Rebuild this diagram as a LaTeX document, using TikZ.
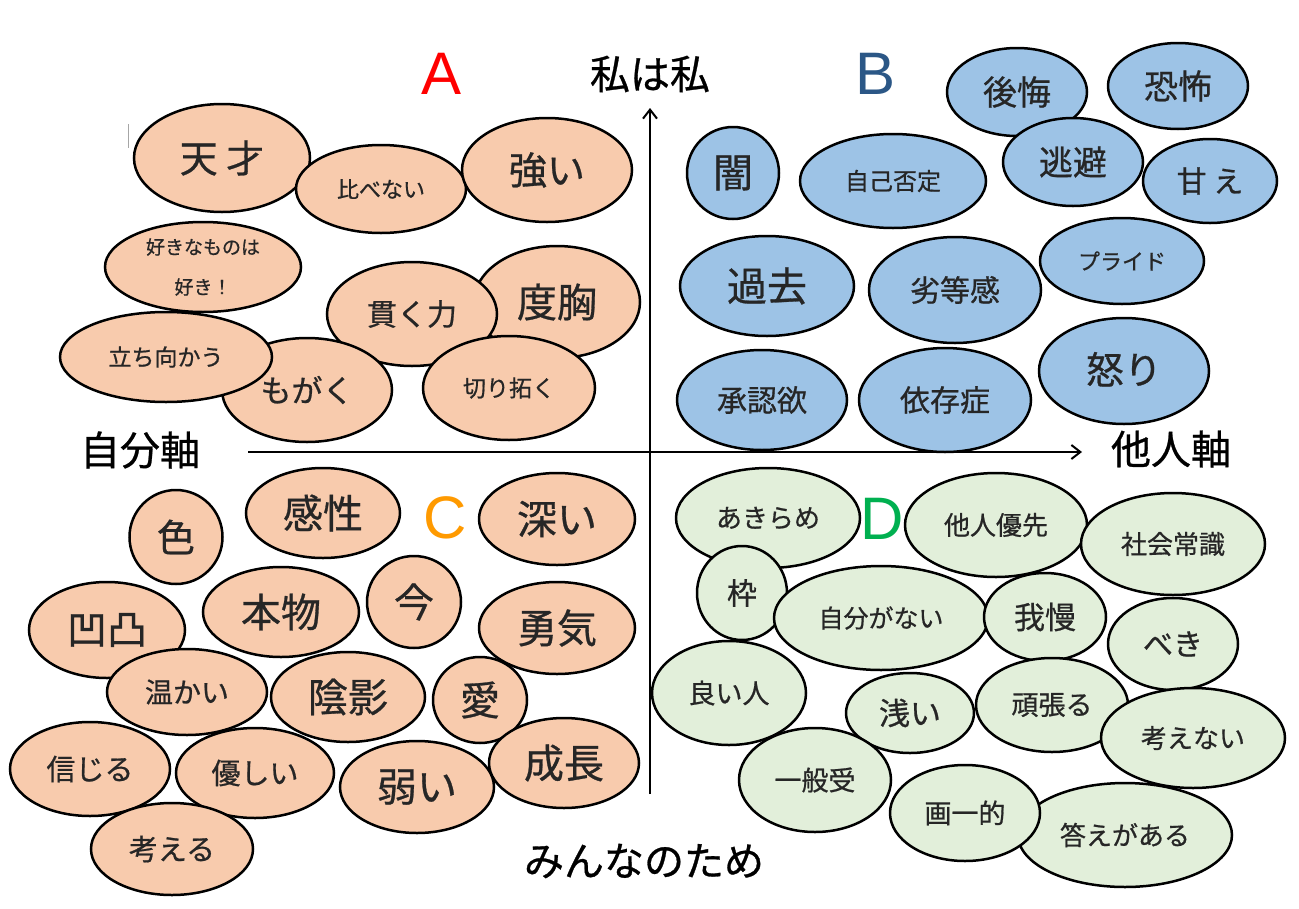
\documentclass[tikz,border=0pt]{standalone}
\usepackage{fontspec}
\setmainfont{Noto Sans CJK JP}[FakeBold=0.7]
\newfontfamily\latinfont{Liberation Sans}
\usetikzlibrary{shapes.geometric,arrows.meta}
\definecolor{peach}{HTML}{F8CBAD}
\definecolor{bluef}{HTML}{9DC3E6}
\definecolor{greenf}{HTML}{E2EFDA}
\definecolor{txt}{HTML}{262626}
\definecolor{qa}{HTML}{FF0000}
\definecolor{qb}{HTML}{2B5786}
\definecolor{qc}{HTML}{FF9A00}
\definecolor{qd}{HTML}{00B050}
\begin{document}
\begin{tikzpicture}[x=1pt,y=-1pt,
  bub/.style={ellipse,draw=black,line width=2.5pt,inner sep=0pt,text=txt},
  pe/.style={bub,fill=peach},
  bl/.style={bub,fill=bluef},
  gr/.style={bub,fill=greenf},
  ax/.style 2 args={minimum width=#1pt,minimum height=#2pt},
  tsz/.style={font=\fontsize{#1}{#1}\selectfont},
  axlab/.style={font=\fontsize{40}{40}\selectfont,text=black,inner sep=0pt},
  quad/.style={font=\latinfont\fontsize{60}{60}\selectfont,inner sep=0pt},
  axisline/.style={line width=2pt,-{Straight Barb[length=9pt,width=14pt,line width=2pt]}}]
\useasboundingbox (0,0) rectangle (1299,908);
\fill[white] (0,0) rectangle (1299,908);

% axes
\coordinate (vtop) at (650,108);
\coordinate (vbot) at (650,794);
\coordinate (hl) at (248,452);
\coordinate (hr) at (1082,452);
\draw[axisline] (vbot) -- (vtop);
\draw[axisline] (hl) -- (hr);

\node[axlab] (top) at (650,74) {私は私};
\node[axlab] (left) at (140,450) {自分軸};
\node[axlab] (right) at (1171,449) {他人軸};
\node[axlab] (bottom) at (644,861) {みんなのため};

\node[quad,text=qa] (qA) at (442,74) {A};
\node[quad,text=qb] (qB) at (876,74) {B};
\node[quad,text=qc] (qC) at (445,518) {C};
\node[quad,text=qd] (qD) at (882,519) {D};

% small mark
\coordinate (m1) at (128,124);
\coordinate (m2) at (128,148);
\draw[gray!70,line width=1pt] (m1) -- (m2);

% Quadrant A
\node[pe,ax={176}{108},tsz=38] (a1) at (222,158) {天 才};
\node[pe,ax={170}{88},tsz=22] (a2) at (381,189) {比べない};
\node[pe,ax={170}{104},tsz=38] (a3) at (547,170) {強い};
\node[pe,ax={196}{90},font=\fontsize{19}{40}\selectfont,align=center] (a4) at (203,267) {好きなものは\\好き！};
\node[pe,ax={166}{112},tsz=40] (a5) at (557,302) {度胸};
\node[pe,ax={170}{104},tsz=30] (a6) at (412,314) {貫く力};
\node[pe,ax={170}{104},tsz=31] (a7) at (307,390) {\raisebox{-2pt}{もがく}};
\node[pe,ax={212}{90},tsz=23] (a8) at (166,357) {立ち向かう};
\node[pe,ax={172}{104},tsz=23] (a9) at (509,388) {切り拓く};

% Quadrant B
\node[bl,ax={92}{92},tsz=40] (b1) at (733,173) {闇};
\node[bl,ax={186}{94},tsz=24] (b2) at (893,181) {自己否定};
\node[bl,ax={140}{88},tsz=34] (b3) at (1017,92) {後悔};
\node[bl,ax={140}{86},tsz=34] (b4) at (1178,86) {恐怖};
\node[bl,ax={140}{88},tsz=34] (b5) at (1073,162) {逃避};
\node[bl,ax={134}{84},tsz=30] (b6) at (1210,181) {甘 え};
\node[bl,ax={174}{100},tsz=40] (b7) at (767,286) {過去};
\node[bl,ax={172}{106},tsz=30] (b8) at (955,290) {劣等感};
\node[bl,ax={164}{86},tsz=22] (b9) at (1122,261) {プライド};
\node[bl,ax={170}{106},tsz=38] (b10) at (1124,371) {\raisebox{6pt}{怒り}};
\node[bl,ax={170}{100},tsz=30] (b11) at (762,400) {承認欲};
\node[bl,ax={172}{104},tsz=30] (b12) at (945,400) {依存症};

% Quadrant C
\node[pe,ax={93}{94},tsz=38] (c1) at (176,537) {色};
\node[pe,ax={154}{90},tsz=40] (c2) at (323,513) {感性};
\node[pe,ax={156}{92},tsz=40] (c3) at (557,519) {深い};
\node[pe,ax={156}{96},tsz=40] (c4) at (107,630) {凹凸};
\node[pe,ax={156}{90},tsz=40] (c5) at (281,612) {本物};
\node[pe,ax={94}{92},tsz=40] (c6) at (414,602) {今};
\node[pe,ax={156}{92},tsz=40] (c7) at (557,628) {勇気};
\node[pe,ax={160}{86},tsz=28] (c8) at (187,692) {温かい};
\node[pe,ax={154}{90},tsz=40] (c9) at (348,697) {陰影};
\node[pe,ax={94}{86},tsz=40] (c10) at (480,700) {愛};
\node[pe,ax={160}{94},tsz=29] (c11) at (90,769) {信じる};
\node[pe,ax={158}{90},tsz=29] (c12) at (255,773) {優しい};
\node[pe,ax={162}{92},tsz=29] (c13) at (172,849) {考える};
\node[pe,ax={154}{92},tsz=40] (c14) at (417,787) {弱い};
\node[pe,ax={150}{90},tsz=40] (c15) at (564,763) {成長};

% Quadrant D
\node[gr,ax={184}{100},tsz=26] (d1) at (768,518) {あきらめ};
\node[gr,ax={90}{94},tsz=30] (d2) at (742,593) {枠};
\node[gr,ax={182}{104},tsz=26] (d3) at (996,525) {他人優先};
\node[gr,ax={184}{102},tsz=26] (d4) at (1173,544) {社会常識};
\node[gr,ax={214}{104},tsz=25] (d5) at (881,618) {自分がない};
\node[gr,ax={122}{88},tsz=31] (d6) at (1045,617) {我慢};
\node[gr,ax={130}{92},tsz=30] (d7) at (1173,644) {べき};
\node[gr,ax={154}{104},tsz=27] (d8) at (729,693) {良い人};
\node[gr,ax={128}{80},tsz=31] (d9) at (910,713) {浅い};
\node[gr,ax={152}{94},tsz=27] (d10) at (1052,705) {頑張る};
\node[gr,ax={184}{100},tsz=26] (d11) at (1193,738) {考えない};
\node[gr,ax={152}{104},tsz=27] (d12) at (815,780) {一般受};
\node[gr,ax={214}{104},tsz=26] (d13) at (1125,835) {答えがある};
\node[gr,ax={150}{96},tsz=27] (d14) at (965,813) {画一的};
\end{tikzpicture}
\end{document}
